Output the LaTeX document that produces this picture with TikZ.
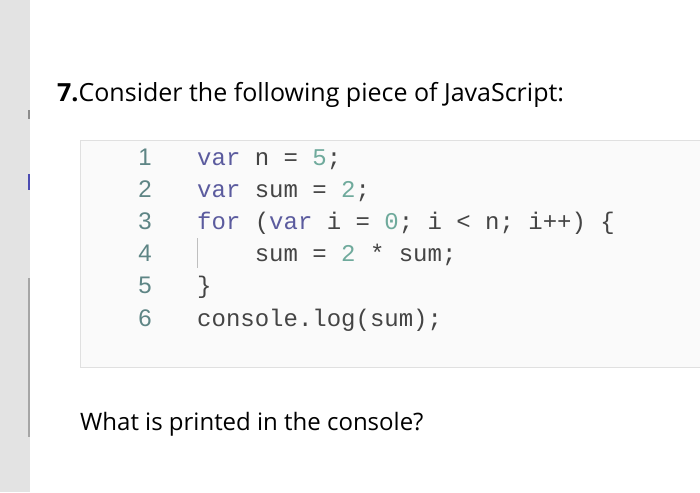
\documentclass[tikz,border=0pt]{standalone}
\usepackage{fontspec}
\setmainfont{Open Sans}
\newfontfamily\codefont{Liberation Mono}
\newfontfamily\numfont{Liberation Sans}
\definecolor{kw}{HTML}{5B5B9E}
\definecolor{nm}{HTML}{6FAA9C}
\definecolor{tx}{HTML}{444444}
\definecolor{ln}{HTML}{5E8585}
\begin{document}
\begin{tikzpicture}[x=1pt,y=-1pt,
  code/.style={anchor=base west,inner sep=0pt,font=\codefont\fontsize{24}{24}\selectfont,text=tx},
  lnum/.style={anchor=base,inner sep=0pt,font=\numfont\fontsize{24}{24}\selectfont,text=ln}]
\useasboundingbox (0,0) rectangle (700,492);
\fill[white] (0,0) rectangle (700,492);
\fill[black!11] (0,0) rectangle (30,492);
\draw[black!45,line width=1.2] (29,110) -- (29,119);
\draw[blue!40!gray,line width=1.5] (29,174) -- (29,190);
\draw[gray!70,line width=1.2] (29,278) -- (29,437);
\node[anchor=base west,inner sep=0pt,font=\fontsize{25}{25}\selectfont] (title) at (57,102) {\textbf{7.}Consider the following piece of JavaScript:};
\filldraw[fill=black!2,draw=black!12] (80,140) rectangle (705,367);
\node[lnum] (l1) at (145,165) {1};
\node[lnum] (l2) at (145,197) {2};
\node[lnum] (l3) at (145,229) {3};
\node[lnum] (l4) at (145,261) {4};
\node[lnum] (l5) at (145,293) {5};
\node[lnum] (l6) at (145,326) {6};
\node[code] (c1) at (197,165) {\textcolor{kw}{var} n = \textcolor{nm}{5};};
\node[code] (c2) at (197,197) {\textcolor{kw}{var} sum = \textcolor{nm}{2};};
\node[code] (c3) at (197,229) {\textcolor{kw}{for} (\textcolor{kw}{var} i = \textcolor{nm}{0}; i < n; i++) \{};
\node[code] (c4) at (197,261) {\phantom{xxxx}sum = \textcolor{nm}{2} * sum;};
\node[code] (c5) at (197,293) {\}};
\node[code] (c6) at (197,326) {console.log(sum);};
\draw[black!25,line width=0.8] (197,238) -- (197,268);
\node[anchor=base west,inner sep=0pt,font=\fontsize{24}{24}\selectfont] (q) at (80,430) {What is printed in the console?};
\end{tikzpicture}
\end{document}
